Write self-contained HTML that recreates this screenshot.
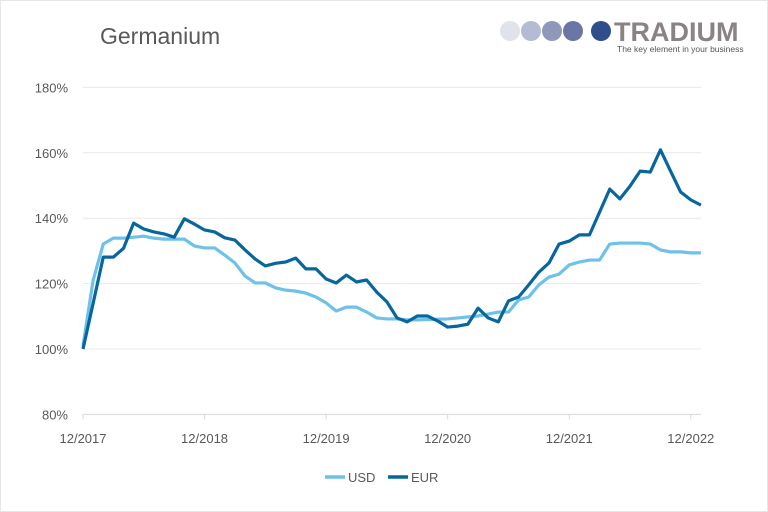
<!DOCTYPE html>
<html><head><meta charset="utf-8"><style>
body{margin:0;background:#fff;}
#wrap{position:relative;width:768px;height:512px;overflow:hidden;font-family:"Liberation Sans",sans-serif;}
</style></head><body>
<div id="wrap">
<svg id="chart" width="768" height="512">
<rect x="0.5" y="0.5" width="767" height="511" fill="#fff" stroke="#e6e6e6"/>
<text x="100" y="44" font-size="23" fill="#595959">Germanium</text>
<g>
<circle cx="510" cy="31" r="10" fill="#e1e3ec"/>
<circle cx="531" cy="31" r="10" fill="#b5bad5"/>
<circle cx="552" cy="31" r="10" fill="#8f97bb"/>
<circle cx="573" cy="31" r="10" fill="#6b76a4"/>
<circle cx="601" cy="31" r="10" fill="#2e4f8a"/>
<text x="614" y="41" font-size="27" font-weight="bold" fill="#8a8384">TRADIUM</text>
<text x="617" y="52" font-size="8.5" fill="#555">The key element in your business</text>
</g>
<g id="grid"></g>
<g id="axes"></g>
<g id="series"></g>
<g>
<line x1="325" y1="477" x2="345" y2="477" stroke="#6ec1e8" stroke-width="3.5"/>
<text x="348" y="482" font-size="13" fill="#595959">USD</text>
<line x1="388" y1="477" x2="408" y2="477" stroke="#07679c" stroke-width="3.5"/>
<text x="411" y="482" font-size="13" fill="#595959">EUR</text>
</g>
</svg>
</div>
<script>
const yTicks=[80,100,120,140,160,180];
const xTickLabels=["12/2017","12/2018","12/2019","12/2020","12/2021","12/2022"];
const usd=[101,121,132.1,133.9,133.9,134.2,134.5,133.9,133.6,133.6,133.6,131.5,130.9,130.9,128.7,126.3,122.3,120.2,120.2,118.7,118,117.7,117.1,115.9,114.1,111.6,112.8,112.8,111.3,109.5,109.2,109.2,108.9,108.9,109,109.1,109.2,109.5,109.8,110.1,110.7,111.3,111.3,115,115.9,119.6,122,122.9,125.7,126.6,127.2,127.2,132.1,132.4,132.4,132.4,132.1,130.3,129.7,129.7,129.4,129.4];
const eur=[100,114,128.1,128.1,130.8,138.5,136.7,135.8,135.2,134.2,139.8,138.2,136.4,135.8,134,133.3,130.3,127.5,125.4,126.2,126.6,127.8,124.5,124.5,121.4,120.2,122.6,120.5,121.1,117.4,114.4,109.5,108.3,110.1,110.1,108.6,106.7,107,107.6,112.5,109.5,108.3,114.7,115.9,119.6,123.5,126.3,132.1,133,134.9,134.9,141.9,148.9,145.9,149.8,154.4,154.1,160.9,154.4,148,145.6,144];
</script>
<script>
const NS="http://www.w3.org/2000/svg";
const X0=83,MW=10.13,Y0=349,PX=3.27;
function xs(i){return X0+i*MW;}
function ys(v){return Y0-(v-100)*PX;}
function mk(t,a,p){const e=document.createElementNS(NS,t);for(const k in a)e.setAttribute(k,a[k]);p.appendChild(e);return e;}
const grid=document.getElementById('grid'),axes=document.getElementById('axes'),ser=document.getElementById('series');
yTicks.forEach(v=>{
 const l=mk('line',{x1:X0,x2:701,y1:ys(v),y2:ys(v),stroke:v===80?'#d9d9d9':'#e8e8e8','stroke-width':1},grid);
 
 
 const t=mk('text',{x:68,y:ys(v)+5,'font-size':13,fill:'#595959','text-anchor':'end'},axes);
 t.textContent=v+'%';
 
 
});
xTickLabels.forEach((s,k)=>{
 const x=xs(k*12);
 const tk=mk('line',{x1:x,x2:x,y1:ys(80),y2:ys(80)+5,stroke:'#d9d9d9'},axes);
 
 
 const t=mk('text',{x:x,y:443,'font-size':13,fill:'#595959','text-anchor':'middle'},axes);
 t.textContent=s;
 
 
});
function line(arr,col,name){
 const p=mk('polyline',{points:arr.map((v,i)=>xs(i)+','+ys(v)).join(' '),fill:'none',stroke:col,'stroke-width':3.2,'stroke-linejoin':'round'},ser);
 
 
}
line(usd,'#6ec1e8','usd-line');
line(eur,'#07679c','eur-line');
</script>
</body></html>
